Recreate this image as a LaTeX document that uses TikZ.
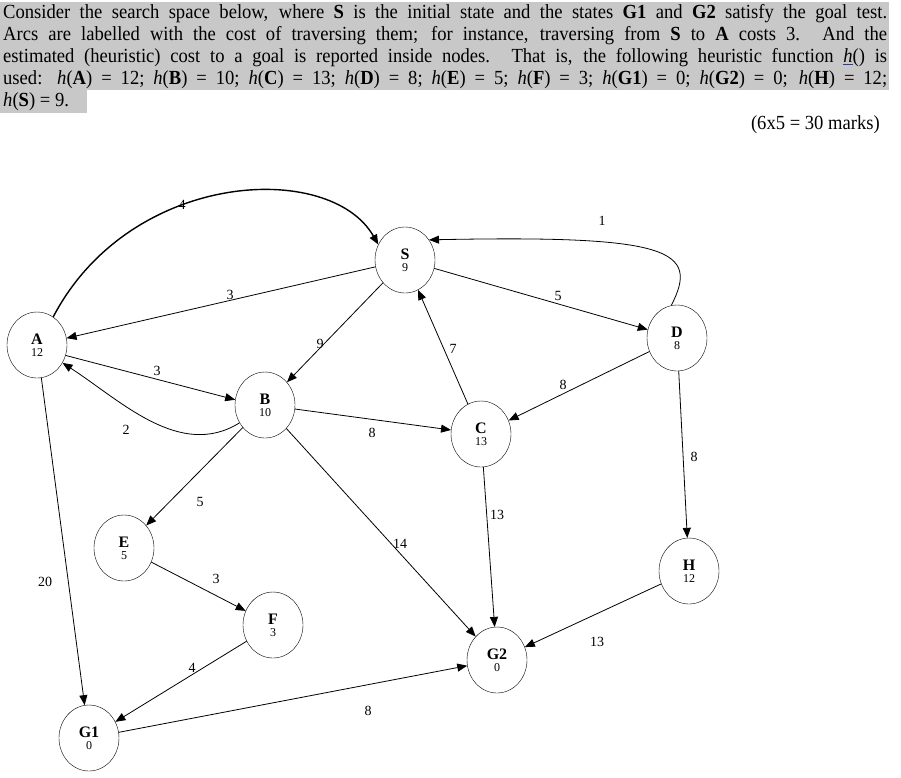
\documentclass[tikz,border=0pt]{standalone}
\usepackage{fontspec}
\setmainfont{Liberation Serif}
\newfontfamily\hdr[FakeStretch=0.93]{Liberation Serif}
\usetikzlibrary{arrows.meta,shapes.geometric}
\definecolor{hl}{RGB}{200,200,200}
\tikzset{
  st/.style={draw,ellipse,minimum width=60pt,minimum height=66pt,inner sep=0pt,align=center,font=\fontsize{12}{13}\selectfont},
  ed/.style={-{Triangle[length=10pt,width=8pt]},line width=0.8pt},
  lb/.style={font=\fontsize{14}{14}\selectfont,inner sep=0pt},
  tl/.style={anchor=west,inner sep=0pt,font=\hdr\fontsize{20}{20}\selectfont}
}
\newcommand{\nm}[1]{{\fontsize{16}{17}\selectfont\bfseries #1}\\[-1pt]}
\begin{document}
\begin{tikzpicture}[x=1pt,y=-1pt]
\useasboundingbox (0,0) rectangle (901,777);
\fill[hl] (0,2) rectangle (889,90);
\fill[hl] (0,90) rectangle (87,113);
\node[tl] (l1) at (3,14) {\makebox[884pt][s]{Consider the search space below, where \textbf{S} is the initial state and the states \textbf{G1} and \textbf{G2} satisfy the goal test.}};
\node[tl] (l2) at (3,36) {\makebox[884pt][s]{Arcs are labelled with the cost of traversing them; for instance, traversing from \textbf{S} to \textbf{A} costs 3. And the}};
\node[tl] (l3) at (3,58) {\makebox[884pt][s]{estimated (heuristic) cost to a goal is reported inside nodes. That is, the following heuristic function \textcolor[RGB]{40,60,160}{\underline{\textcolor{black}{\textit{h}}}}() is}};
\node[tl] (l4) at (3,80) {\makebox[884pt][s]{used: \textit{h}(\textbf{A}) = 12;\ \textit{h}(\textbf{B}) = 10;\ \textit{h}(\textbf{C}) = 13;\ \textit{h}(\textbf{D}) = 8;\ \textit{h}(\textbf{E}) = 5;\ \textit{h}(\textbf{F}) = 3;\ \textit{h}(\textbf{G1}) = 0;\ \textit{h}(\textbf{G2}) = 0; \textit{h}(\textbf{H}) = 12;}};
\node[tl] (l5) at (3,102) {\textit{h}(\textbf{S}) = 9.};
\node[tl,anchor=east] (mk) at (880,125) {(6x5 = 30 marks)};

\node[st] (S) at (405,260) {\nm{S}9};
\node[st] (A) at (37,345) {\nm{A}12};
\node[st] (B) at (265,405) {\nm{B}10};
\node[st] (C) at (481,434) {\nm{C}13};
\node[st] (D) at (677,338) {\nm{D}8};
\node[st] (E) at (124,548) {\nm{E}5};
\node[st] (F) at (273,625) {\nm{F}3};
\node[st] (G2) at (497,660) {\nm{G2}0};
\node[st] (G1) at (89,738) {\nm{G1}0};
\node[st] (H) at (689,571) {\nm{H}12};

\draw[ed,line width=1.4pt] (A.60) .. controls (130,170) and (330,160) .. (S.150);
\draw[ed] (S) -- (A);
\draw[ed] (S) -- (B);
\draw[ed] (C) -- (S);
\draw[ed] (S) -- (D);
\draw[ed] (D.100) .. controls (700,250) and (670,235) .. (S.40);
\draw[ed] (D) -- (C);
\draw[ed] (D) -- (H);
\draw[ed] (A.-20) -- (B.170);
\draw[ed] (B.215) .. controls (180,460) and (120,400) .. (A.-35);
\draw[ed] (B) -- (C);
\draw[ed] (B) -- (E);
\draw[ed] (B) -- (G2);
\draw[ed] (C) -- (G2);
\draw[ed] (H) -- (G2);
\draw[ed] (E) -- (F);
\draw[ed] (F) -- (G1);
\draw[ed] (G1) -- (G2);
\draw[ed] (A) -- (G1);

\node[lb] (w1) at (182,205) {4};
\node[lb] (w2) at (230,295) {3};
\node[lb] (w3) at (320,344) {9};
\node[lb] (w4) at (453,349) {7};
\node[lb] (w5) at (558,296) {5};
\node[lb] (w6) at (602,221) {1};
\node[lb] (w7) at (563,385) {8};
\node[lb] (w8) at (694,457) {8};
\node[lb] (w9) at (157,371) {3};
\node[lb] (w10) at (126,430) {2};
\node[lb] (w11) at (372,433) {8};
\node[lb] (w12) at (200,502) {5};
\node[lb] (w13) at (400,544) {14};
\node[lb] (w14) at (497,515) {13};
\node[lb] (w15) at (597,642) {13};
\node[lb] (w16) at (216,579) {3};
\node[lb] (w17) at (192,668) {4};
\node[lb] (w18) at (368,711) {8};
\node[lb] (w19) at (45,582) {20};
\end{tikzpicture}
\end{document}
